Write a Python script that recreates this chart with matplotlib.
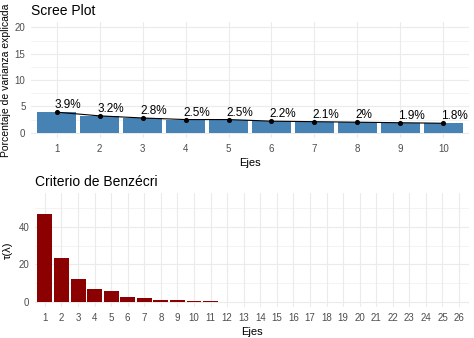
import matplotlib as mpl

mpl.use("Agg")
import matplotlib.pyplot as plt
from matplotlib.ticker import MultipleLocator

plt.rcParams["font.family"] = ["Liberation Sans", "DejaVu Sans"]

# scree plot data
ejes = list(range(1, 11))
varianza = [3.9, 3.2, 2.8, 2.5, 2.5, 2.2, 2.1, 2.0, 1.9, 1.8]
etiquetas = ["3.9%", "3.2%", "2.8%", "2.5%", "2.5%", "2.2%", "2.1%", "2%", "1.9%", "1.8%"]

# benzecri data
ejes_b = list(range(1, 27))
tau = [46.9, 23.5, 12.4, 6.6, 5.7, 2.7, 1.8, 0.9, 0.7, 0.45, 0.4] + [0.0] * 15

grid_col = "#EBEBEB"
tick_col = "#4D4D4D"


def style(ax):
    for s in ax.spines.values():
        s.set_visible(False)
    ax.tick_params(length=0, labelsize=7, labelcolor=tick_col, pad=4)
    ax.grid(True, which="major", color=grid_col, linewidth=0.8)
    ax.grid(True, which="minor", axis="y", color=grid_col, linewidth=0.4)
    ax.set_axisbelow(True)


fig = plt.figure(figsize=(4.74, 3.38), dpi=100)

# top panel
ax1 = fig.add_axes([0.0654, 0.5917, 0.924, 0.343])
style(ax1)
ax1.bar(ejes, varianza, width=0.9, color="steelblue")
ax1.plot(ejes, varianza, color="black", linewidth=0.8)
ax1.scatter(ejes, varianza, color="black", s=7, zorder=3)
for x, y, t in zip(ejes, varianza, etiquetas):
    ax1.text(x - 0.05, y + 0.2, t, fontsize=8.5, ha="left", va="bottom")
ax1.set_xlim(0.4, 10.6)
ax1.set_ylim(-1, 21)
ax1.set_xticks(ejes)
ax1.set_yticks([0, 5, 10, 15, 20])
ax1.yaxis.set_minor_locator(MultipleLocator(2.5))
ax1.tick_params(which="minor", length=0)
ax1.set_xlabel("Ejes", fontsize=8, labelpad=3)
ax1.set_ylabel("Porcentaje de varianza explicada", fontsize=7.5, labelpad=3)
ax1.set_title("Scree Plot", fontsize=10, loc="left", pad=5)

# bottom panel
ax2 = fig.add_axes([0.0738, 0.0917, 0.9156, 0.337])
style(ax2)
ax2.bar(ejes_b, tau, width=0.9, color="darkred")
ax2.set_xlim(0.4, 26.6)
ax2.set_ylim(-2.8, 58)
ax2.set_xticks(ejes_b)
ax2.set_yticks([0, 20, 40])
ax2.yaxis.set_minor_locator(MultipleLocator(10))
ax2.tick_params(which="minor", length=0)
ax2.set_xlabel("Ejes", fontsize=8, labelpad=3)
ax2.set_ylabel("τ(λ)", fontsize=8, labelpad=4)
ax2.set_title("Criterio de Benzécri", fontsize=10, loc="left", pad=5)

fig.savefig("out.png", dpi=100)
